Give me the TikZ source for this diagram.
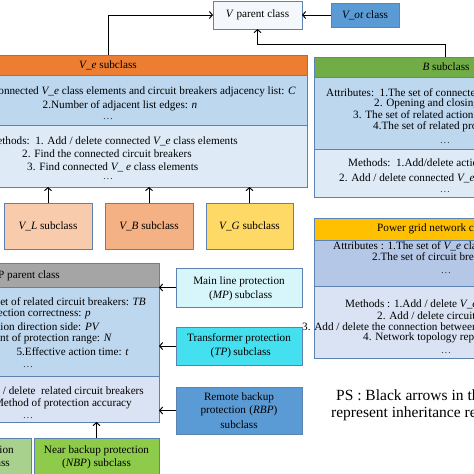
\documentclass[tikz,border=0pt]{standalone}
\usepackage{fontspec}
\setmainfont{Liberation Serif}
\usetikzlibrary{arrows.meta}
\newcommand{\fpar}[1]{\hspace{0.3em}(#1)\hspace{0.2em}}
\newcommand{\mydots}{.\kern1.2pt.\kern1.2pt.}
\definecolor{bord}{HTML}{5B82B0}
\definecolor{cVpar}{HTML}{F4F8FD}
\definecolor{cVot}{HTML}{5B9BD5}
\definecolor{cOrange}{HTML}{ED7D31}
\definecolor{cAttr}{HTML}{BDD7EE}
\definecolor{cMeth}{HTML}{DEEBF7}
\definecolor{cGreen}{HTML}{70AD47}
\definecolor{cYellow}{HTML}{FFC000}
\definecolor{cAttrB}{HTML}{B4C7E7}
\definecolor{cMethB}{HTML}{DAE3F3}
\definecolor{cGray}{HTML}{A5A5A5}
\definecolor{cVL}{HTML}{F8CBAD}
\definecolor{cVB}{HTML}{F4B183}
\definecolor{cVG}{HTML}{FFD966}
\definecolor{cMP}{HTML}{D6F6FC}
\definecolor{cTP}{HTML}{45E0F0}
\definecolor{cRBP}{HTML}{5B9BD5}
\definecolor{cNBP}{HTML}{8FCB4A}
\definecolor{cFBP}{HTML}{A9D18E}
\tikzset{
  x=1pt, y=-1pt,
  box/.style={draw=bord, line width=0.8pt, inner sep=0pt, outer sep=0pt, anchor=north west},
  txt/.style={inner sep=0pt, font=\fontsize{11.2}{12}\selectfont},
  dots/.style={inner sep=0pt, font=\fontsize{9}{9}\selectfont},
  pstxt/.style={inner sep=0pt, font=\fontsize{15.5}{17}\selectfont},
  arr/.style={draw=black, line width=1pt, -{Straight Barb[length=3pt,width=7pt]}},
}
\begin{document}
\begin{tikzpicture}
\useasboundingbox (0,0) rectangle (474,474);
\clip (0,0) rectangle (474,474);
\fill[white] (0,0) rectangle (474,474);

% V parent and V_ot
\node[box, fill=cVpar, minimum width=89pt, minimum height=28pt] (vpar) at (213,1) {};
\node[txt] (vpart) at (vpar.center) {\textit{V} parent class};
\node[box, fill=cVot, minimum width=68pt, minimum height=24pt] (vot) at (331,3) {};
\node[txt] (vott) at (vot.center) {\textit{V\_ot} class};

% V_e subclass
\node[box, fill=cOrange, minimum width=398pt, minimum height=20pt] (veh) at (-91,55) {};
\node[box, fill=cAttr, minimum width=398pt, minimum height=50pt] (vea) at (-91,75) {};
\node[box, fill=cMeth, minimum width=398pt, minimum height=62pt] (vem) at (-91,125) {};
\node[txt] (veht) at (108,65) {\textit{V\_e} subclass};
\node[txt, anchor=east] (vea1) at (296,92) {Attributes: 1.The set of connected \textit{V\_e} class elements and circuit breakers adjacency list: \textit{C}};
\node[txt] (vea2) at (120,106) {2.Number of adjacent list edges: \textit{n}};
\node[dots] (vea3) at (108,119) {\mydots};
\node[txt, anchor=east] (vem1) at (238,141) {Methods:\ \ 1. Add / delete connected \textit{V\_e} class elements};
\node[txt, anchor=west] (vem2) at (22,154) {2. Find the connected circuit breakers};
\node[txt, anchor=west] (vem3) at (27,167) {3. Find connected \textit{V\_ e} class elements};
\node[dots] (vem4) at (108,179) {\mydots};

% B subclass
\node[box, fill=cGreen, minimum width=262pt, minimum height=20pt] (bh) at (314,57) {};
\node[box, fill=cAttr, minimum width=262pt, minimum height=72pt] (ba) at (314,77) {};
\node[box, fill=cMeth, minimum width=262pt, minimum height=48pt] (bm) at (314,149) {};
\node[txt] (bht) at (446,67) {\textit{B} subclass};
\node[txt, anchor=west] (ba1) at (326,93) {Attributes:\ \ 1.The set of connected \textit{V\_e} class elements};
\node[txt, anchor=west] (ba2) at (374,104) {2. Opening and closing state};
\node[txt, anchor=west] (ba3) at (353,116) {3. The set of related action protections};
\node[txt, anchor=west] (ba4) at (373,127) {4.The set of related protections};
\node[dots] (ba5) at (445,143) {\mydots};
\node[txt, anchor=west] (bm1) at (348,164) {Methods:\ \ 1.Add/delete action protection};
\node[txt, anchor=west] (bm2) at (339,178) {2. Add / delete connected \textit{V\_e} class elements};
\node[dots] (bm3) at (445,192) {\mydots};

% V_L, V_B, V_G
\node[box, fill=cVL, minimum width=88pt, minimum height=46pt] (vl) at (4,203) {};
\node[txt] (vlt) at (vl.center) {\textit{V\_L} subclass};
\node[box, fill=cVB, minimum width=88pt, minimum height=46pt] (vb) at (105,203) {};
\node[txt] (vbt) at (vb.center) {\textit{V\_B} subclass};
\node[box, fill=cVG, minimum width=87pt, minimum height=46pt] (vg) at (206,203) {};
\node[txt] (vgt) at (vg.center) {\textit{V\_G} subclass};

% Power grid network
\node[box, fill=cYellow, minimum width=262pt, minimum height=22pt] (pgh) at (314,218) {};
\node[box, fill=cAttrB, minimum width=262pt, minimum height=46pt] (pga) at (314,240) {};
\node[box, fill=cMethB, minimum width=262pt, minimum height=72pt] (pgm) at (314,286) {};
\node[txt, anchor=west] (pght) at (377,229) {Power grid network class};
\node[txt, anchor=west] (pga1) at (333,246) {Attributes : 1.The set of \textit{V\_e} class elements};
\node[txt, anchor=west] (pga2) at (372,257) {2.The set of circuit breakers};
\node[dots] (pga3) at (446,273) {\mydots};
\node[txt, anchor=west] (pgm1) at (345,304) {Methods : 1.Add / delete \textit{V\_e} class elements};
\node[txt, anchor=west] (pgm2) at (377,316) {2. Add / delete circuit breakers};
\node[txt, anchor=west] (pgm3) at (302,327) {3. Add / delete the connection between them};
\node[txt, anchor=west] (pgm4) at (363,338) {4. Network topology representation};
\node[dots] (pgm5) at (446,353) {\mydots};

% P parent class
\node[box, fill=cGray, minimum width=259pt, minimum height=24pt] (ph) at (-100,263) {};
\node[box, fill=cAttr, minimum width=259pt, minimum height=89pt] (pa) at (-100,287) {};
\node[box, fill=cMethB, minimum width=259pt, minimum height=46pt] (pm) at (-100,376) {};
\node[txt, anchor=east] (pht) at (60,276) {RP parent class};
\node[txt, anchor=east] (pa1) at (146,302) {Attributes: 1.The set of related circuit breakers: \textit{TB}};
\node[txt, anchor=east] (pa2) at (91,314) {2.Protection correctness: \textit{p}};
\node[txt, anchor=east] (pa3) at (100,327) {3.Protection direction side: \textit{PV}};
\node[txt, anchor=east] (pa4) at (112,339) {4.Amount of protection range: \textit{N}};
\node[txt, anchor=east] (pa5) at (129,352) {5.Effective action time: \textit{t}};
\node[dots] (pa6) at (28,367) {\mydots};
\node[txt, anchor=east] (pm1) at (144,391) {Methods: 1.Add / delete\ \ related circuit breakers};
\node[txt, anchor=east] (pm2) at (132,404) {2.Method of protection accuracy};
\node[dots] (pm3) at (28,418) {\mydots};

% protection subclasses
\node[box, fill=cMP, minimum width=126pt, minimum height=39pt] (mp) at (176,268) {};
\node[txt] (mpt1) at (239,282) {Main line protection};
\node[txt] (mpt2) at (239,296) {\fpar{\textit{MP}}subclass};
\node[box, fill=cTP, minimum width=126pt, minimum height=38pt] (tp) at (176,327) {};
\node[txt] (tpt1) at (239,339) {Transformer protection};
\node[txt] (tpt2) at (239,353) {\fpar{\textit{TP}}subclass};
\node[box, fill=cRBP, minimum width=126pt, minimum height=47pt] (rbp) at (176,387) {};
\node[txt] (rbpt1) at (239,398) {Remote backup};
\node[txt] (rbpt2) at (239,411) {protection\fpar{\textit{RBP}}};
\node[txt] (rbpt3) at (239,425) {subclass};
\node[box, fill=cFBP, minimum width=91pt, minimum height=45pt] (fbp) at (-60,438) {};
\node[txt, anchor=east] (fbpt1) at (14,451) {Far backup protection};
\node[txt, anchor=east] (fbpt2) at (10,464) {(\textit{FBP}) subclass};
\node[box, fill=cNBP, minimum width=125pt, minimum height=45pt] (nbp) at (34,438) {};
\node[txt] (nbpt1) at (96.5,451) {Near backup protection};
\node[txt] (nbpt2) at (96.5,464) {(\textit{NBP}) subclass};

% PS note
\node[pstxt, anchor=west] (ps1) at (336,397) {PS : Black arrows in the figure};
\node[pstxt, anchor=west] (ps2) at (331,414) {represent inheritance relationship};

% connectors
\draw[arr] (veh.north) |- (vpar.west);
\draw[arr] (bh.north) -- ++(0,-13) -| (vpar.south);
\draw[arr] (vot.west) -- (vpar.east);
\draw[arr] (vl.north) -- (vl.north |- vem.south);
\draw[arr] (vb.north) -- (vb.north |- vem.south);
\draw[arr] (vg.north) -- (vg.north |- vem.south);
\draw[arr] (mp.west) -- (mp.west -| pa.east);
\draw[arr] (tp.west) -- (tp.west -| pa.east);
\draw[arr] (rbp.west) -- (rbp.west -| pm.east);
\draw[arr] (nbp.north) -- (nbp.north |- pm.south);
\end{tikzpicture}
\end{document}
